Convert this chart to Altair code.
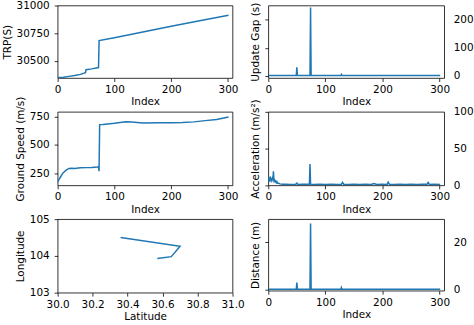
import altair as alt
import pandas as pd

FONT = "DejaVu Sans"
BLUE = "#1f77b4"

# ---- data ----
trp_idx = [0, 10, 20, 30, 40, 49, 50, 60, 72, 73, 100, 150, 200, 250, 301]
trp_val = [30349, 30353, 30360, 30368, 30378, 30393, 30420, 30428, 30440, 30685, 30710, 30762, 30815, 30864, 30915]

gap_idx = [0, 49, 50, 51, 73, 74, 75, 127, 128, 129, 301]
gap_val = [1, 1, 30, 1, 1, 244, 1, 1, 5, 1, 1]

gs_idx = [0, 2, 5, 8, 10, 15, 20, 25, 30, 40, 50, 60, 70, 72, 73, 73, 74, 80, 100, 120, 130, 150, 180, 200, 220, 240, 260, 280, 301]
gs_val = [175, 195, 220, 245, 258, 280, 295, 297, 295, 300, 302, 303, 308, 312, 270, 300, 678, 680, 690, 703, 700, 693, 695, 695, 697, 702, 713, 722, 745]

acc_idx = [0, 1, 2, 3, 4, 5, 6, 7, 8, 9, 10, 11, 12, 13, 14, 15, 16, 18, 20, 25, 30, 40, 48, 50, 52, 60, 72, 73, 74, 75, 80,
           90, 100, 110, 120, 128, 130, 132, 140, 150, 160, 170, 180, 185, 190, 200, 208, 210, 212, 220, 230, 240, 250,
           260, 270, 278, 280, 282, 290, 301]
acc_val = [12, 5, 9, 7, 10, 8, 6, 9, 7, 19, 6, 7, 5, 6, 4, 5, 3, 3, 2, 1.5, 1.5, 1.2, 1.5, 3, 1.2, 1.5, 1.5, 29, 2, 1.5, 1.2,
           1.5, 1.2, 1.5, 1.3, 1.5, 4, 1.5, 1.2, 1.4, 1.2, 1.5, 1.3, 2.5, 1.2, 1.4, 1.3, 4.5, 1.5, 1.2, 1.4, 1.3, 1.5,
           1.2, 1.4, 1.5, 4, 1.3, 1.4, 1.2]

lat_val = [30.36, 30.70, 30.65, 30.57]
lon_val = [104.50, 104.26, 103.98, 103.93]

dist_idx = [0, 49, 50, 51, 73, 74, 75, 127, 128, 129, 301]
dist_val = [0.3, 0.3, 3.1, 0.3, 0.3, 28, 0.3, 0.3, 1, 0.3, 0.3]

IDX_TICKS = [0, 100, 200, 300]
IDX_DOMAIN = [0, 308]
LW, RW = 176, 177


def frame(x, y):
    return pd.DataFrame({"x": x, "y": y, "seq": list(range(len(x)))})


def xaxis(values, title, fmt):
    return alt.Axis(values=values, title=title, format=fmt, titlePadding=2, labelPadding=3)


def left_chart(x, y, xdom, ydom, xticks, yticks, xtitle, ytitle, h, xfmt="d"):
    df = frame(x, y)
    return alt.Chart(df).mark_line(color=BLUE, strokeWidth=1.5, clip=True).encode(
        x=alt.X("x:Q", scale=alt.Scale(domain=xdom, nice=False, zero=False), axis=xaxis(xticks, xtitle, xfmt)),
        y=alt.Y("y:Q", scale=alt.Scale(domain=ydom, nice=False, zero=False),
                axis=alt.Axis(values=yticks, title=ytitle, format=".0f", titlePadding=4, labelPadding=5)),
        order="seq:Q",
    ).properties(width=LW, height=h)


def right_chart(x, y, ydom, yticks, ytitle, h):
    df = frame(x, y)
    xenc = alt.X("x:Q", scale=alt.Scale(domain=IDX_DOMAIN, nice=False, zero=False),
                 axis=xaxis(IDX_TICKS, "Index", "d"))
    yscale = alt.Scale(domain=ydom, nice=False, zero=False)
    base = alt.Chart(df)
    l1 = base.mark_line(color=BLUE, strokeWidth=1.5, clip=True).encode(
        x=xenc,
        y=alt.Y("y:Q", scale=yscale,
                axis=alt.Axis(values=yticks, title=ytitle, labels=False, orient="left", titlePadding=4)),
        order="seq:Q",
    )
    l2 = base.mark_line(color=BLUE, strokeWidth=1.5, opacity=0, clip=True).encode(
        x=xenc,
        y=alt.Y("y:Q", scale=yscale,
                axis=alt.Axis(values=yticks, title=None, ticks=False, tickSize=0, orient="right",
                              labelPadding=9, format=".0f")),
        order="seq:Q",
    )
    return alt.layer(l1, l2).resolve_axis(y="independent").properties(width=RW, height=h)


c1 = left_chart(trp_idx, trp_val, IDX_DOMAIN, [30345, 31003], IDX_TICKS, [30500, 30750, 31000], "Index", "TRP(S)", 73)
c2 = right_chart(gap_idx, gap_val, [-8, 251], [0, 100, 200], "Update Gap (s)", 73)
c3 = left_chart(gs_idx, gs_val, IDX_DOMAIN, [147, 790], IDX_TICKS, [250, 500, 750], "Index", "Ground Speed (m/s)", 74)
c4 = right_chart(acc_idx, acc_val, [0, 100], [0, 50, 100], "Acceleration (m/s²)", 74)
c5 = left_chart(lat_val, lon_val, [30.0, 31.0], [103, 105], [30.0, 30.2, 30.4, 30.6, 30.8, 31.0], [103.0, 104.0, 105.0],
                "Latitude", "Longitude", 74, xfmt=".1f")
c6 = right_chart(dist_idx, dist_val, [-0.3, 29.8], [0, 20], "Distance (m)", 72)

chart = alt.concat(c1, c2, c3, c4, c5, c6, columns=2, spacing={"row": 34, "column": 36}, bounds="flush").properties(
    padding={"left": 1, "top": -1.5, "right": 0, "bottom": 0},
    background="white",
).configure_axis(
    labelFont=FONT, titleFont=FONT, labelFontSize=10.5, titleFontSize=10.5, titleFontWeight="normal",
    labelColor="black", titleColor="black", tickColor="black", tickSize=3.5, tickWidth=0.8,
    domain=False, grid=False, labelFlush=False, labelOverlap=False,
).configure_view(stroke="black", strokeWidth=0.8)

chart.save("out.html", embed_options={"renderer": "svg", "actions": False})
